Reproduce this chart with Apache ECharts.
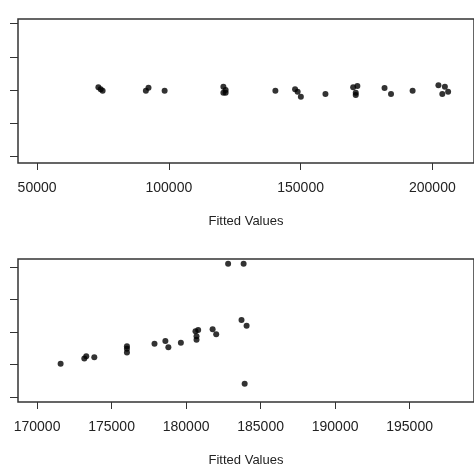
<!DOCTYPE html>
<html><head><meta charset="utf-8">
<script src="https://cdn.jsdelivr.net/npm/echarts@6/dist/echarts.min.js"></script>
<style>html,body{margin:0;padding:0;background:#fff}#c{width:474px;height:474px}</style>
</head><body><div id="c"></div>
<script>
const topX = [73270,74130,74870,91280,92280,98400,120700,121550,121550,120700,140430,147900,148880,150100,159430,169950,171540,170930,170930,181850,184310,192500,202300,204750,203770,205980];
const topY = [0.08,0.02,-0.02,-0.02,0.07,-0.02,0.1,0,-0.08,-0.08,-0.02,0.02,-0.05,-0.2,-0.12,0.08,0.12,-0.08,-0.15,0.06,-0.12,-0.02,0.14,0.1,-0.12,-0.05];
const botX = [171580,173170,173300,173840,176030,176030,176030,177880,178610,178810,179650,180630,180810,180700,180700,181780,182020,182820,183860,183720,184060,183930];
const botY = [-0.98,-0.82,-0.75,-0.78,-0.44,-0.52,-0.63,-0.36,-0.28,-0.47,-0.33,0.02,0.06,-0.13,-0.24,0.08,-0.07,2.1,2.1,0.37,0.19,-1.6];
const topTicks = [50000,100000,150000,200000];
const botTicks = [170000,175000,180000,185000,190000,195000];
const yTicks = [-2,-1,0,1,2];
const pts = (xs, ys) => xs.map((x, i) => [x, ys[i]]);
const ax = '#333';
function xAxis(idx, min, max, ticks) {
  return {gridIndex: idx, type: 'value', min, max, position: 'bottom', name: 'Fitted Values', nameLocation: 'middle', nameGap: 52,
    nameTextStyle: {color: '#222', fontSize: 13, fontFamily: 'Liberation Sans'},
    axisLine: {show: false, onZero: false}, splitLine: {show: false},
    axisTick: {show: true, length: 7, lineStyle: {color: ax}, customValues: ticks},
    axisLabel: {color: '#222', fontSize: 14, fontFamily: 'Liberation Sans', margin: 18, customValues: ticks, formatter: v => String(v)}};
}
function yAxis(idx, min, max) {
  return {gridIndex: idx, type: 'value', min, max, position: 'left',
    axisLine: {show: false, onZero: false}, splitLine: {show: false},
    axisTick: {show: true, length: 8, lineStyle: {color: ax}, customValues: yTicks},
    axisLabel: {show: false}};
}
const chart = echarts.init(document.getElementById('c'));
chart.setOption({
  animation: false,
  grid: [
    {left: 18, top: 19, width: 470, height: 144, show: true, borderColor: ax, borderWidth: 1.5, backgroundColor: 'transparent'},
    {left: 18, top: 259, width: 470, height: 143, show: true, borderColor: ax, borderWidth: 1.5, backgroundColor: 'transparent'}
  ],
  xAxis: [xAxis(0, 42760, 215800, topTicks), xAxis(1, 168720, 199320, botTicks)],
  yAxis: [yAxis(0, -2.2, 2.14), yAxis(1, -2.16, 2.25)],
  series: [
    {type: 'scatter', xAxisIndex: 0, yAxisIndex: 0, data: pts(topX, topY), symbolSize: 6, itemStyle: {color: '#000'}},
    {type: 'scatter', xAxisIndex: 1, yAxisIndex: 1, data: pts(botX, botY), symbolSize: 6, itemStyle: {color: '#000'}}
  ]
});
</script></body></html>
